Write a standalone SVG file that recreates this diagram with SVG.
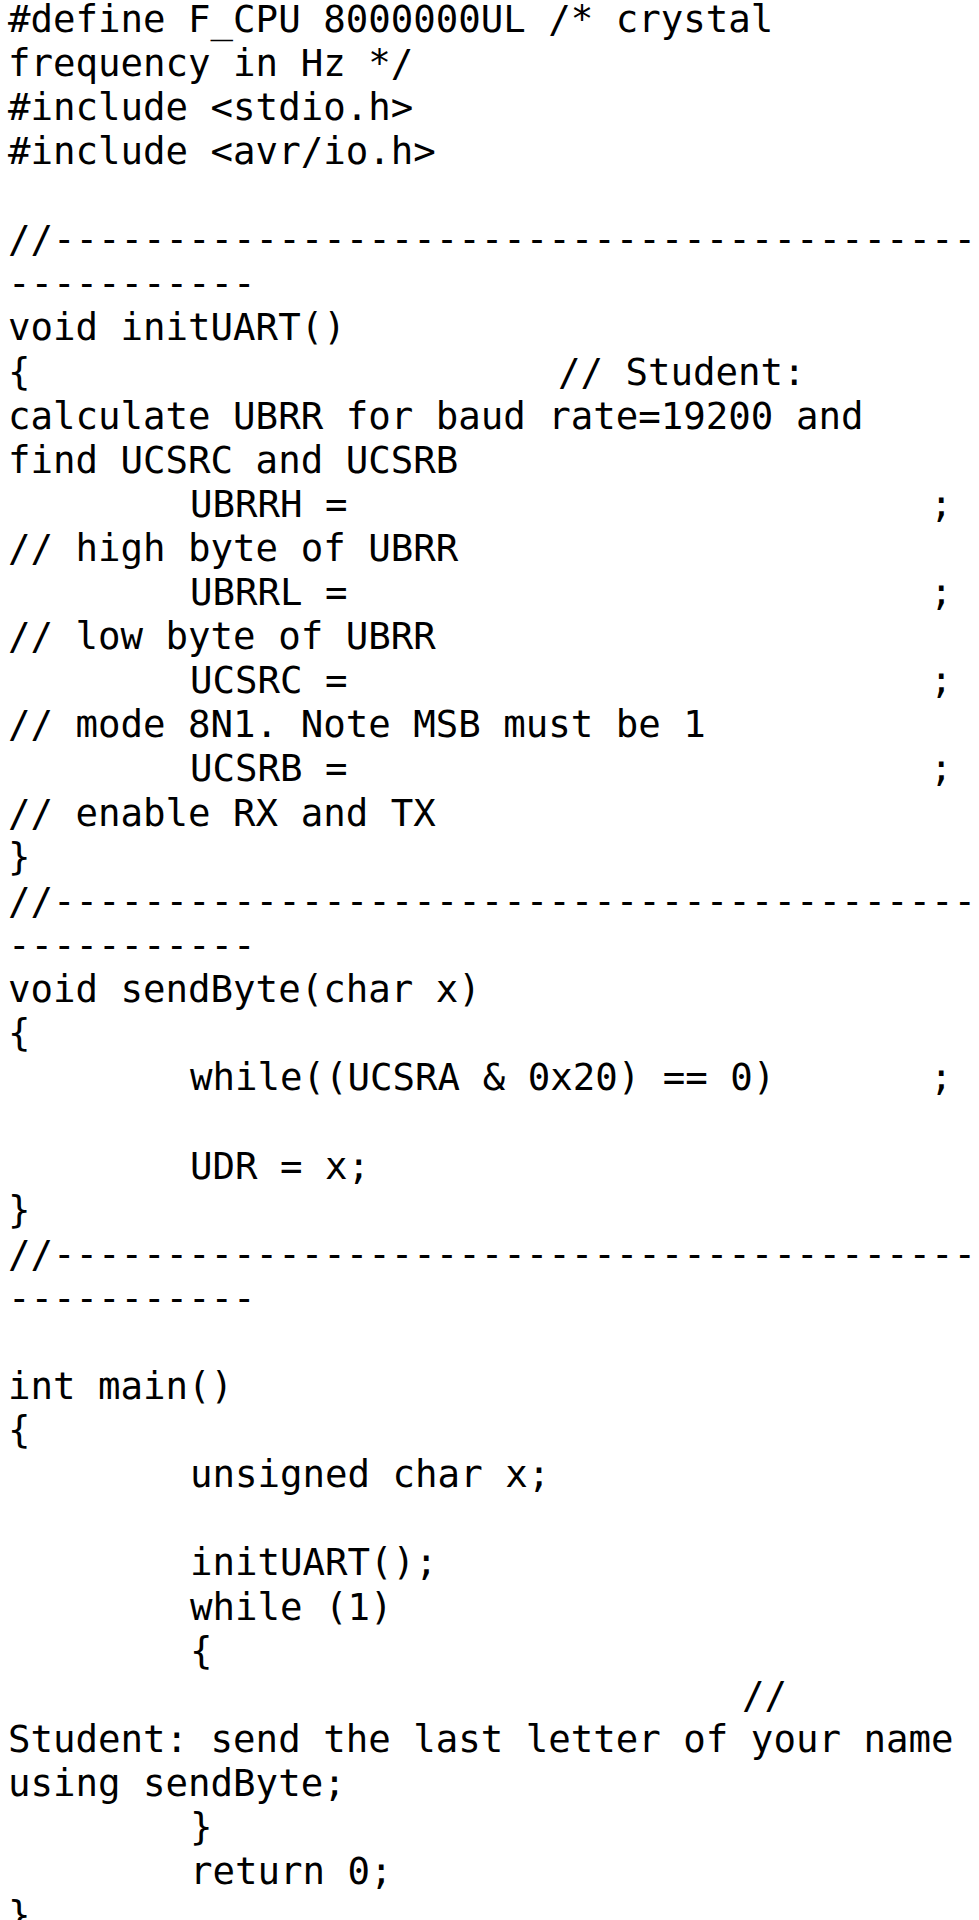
<svg xmlns="http://www.w3.org/2000/svg" width="979" height="1920" viewBox="0 0 979 1920">
<style>
text{font-family:"DejaVu Sans Mono","Liberation Mono",monospace;font-size:37.4px;fill:#000;white-space:pre}
</style>
<rect width="979" height="1920" fill="#fff"/>
<g id="code">
<text x="8" y="32">#define F_CPU 8000000UL /* crystal</text>
<text x="8" y="76">frequency in Hz */</text>
<text x="8" y="120">#include &lt;stdio.h&gt;</text>
<text x="8" y="164">#include &lt;avr/io.h&gt;</text>
<text x="8" y="252">//-----------------------------------------</text>
<text x="8" y="296">-----------</text>
<text x="8" y="340">void initUART()</text>
<text x="8" y="385">{</text><text x="558" y="385">// Student:</text>
<text x="8" y="429">calculate UBRR for baud rate=19200 and</text>
<text x="8" y="473">find UCSRC and UCSRB</text>
<text x="190" y="517">UBRRH =</text><text x="930" y="517">;</text>
<text x="8" y="561">// high byte of UBRR</text>
<text x="190" y="605">UBRRL =</text><text x="930" y="605">;</text>
<text x="8" y="649">// low byte of UBRR</text>
<text x="190" y="693">UCSRC =</text><text x="930" y="693">;</text>
<text x="8" y="737">// mode 8N1. Note MSB must be 1</text>
<text x="190" y="781">UCSRB =</text><text x="930" y="781">;</text>
<text x="8" y="826">// enable RX and TX</text>
<text x="8" y="870">}</text>
<text x="8" y="914">//-----------------------------------------</text>
<text x="8" y="958">-----------</text>
<text x="8" y="1002">void sendByte(char x)</text>
<text x="8" y="1046">{</text>
<text x="190" y="1090">while((UCSRA &amp; 0x20) == 0)</text><text x="930" y="1090">;</text>
<text x="190" y="1179">UDR = x;</text>
<text x="8" y="1223">}</text>
<text x="8" y="1267">//-----------------------------------------</text>
<text x="8" y="1311">-----------</text>
<text x="8" y="1399">int main()</text>
<text x="8" y="1443">{</text>
<text x="190" y="1487">unsigned char x;</text>
<text x="190" y="1575">initUART();</text>
<text x="190" y="1620">while (1)</text>
<text x="190" y="1664">{</text>
<text x="742" y="1708">//</text>
<text x="8" y="1752">Student: send the last letter of your name</text>
<text x="8" y="1796">using sendByte;</text>
<text x="190" y="1840">}</text>
<text x="190" y="1884">return 0;</text>
<text x="8" y="1928">}</text>
</g>
</svg>
